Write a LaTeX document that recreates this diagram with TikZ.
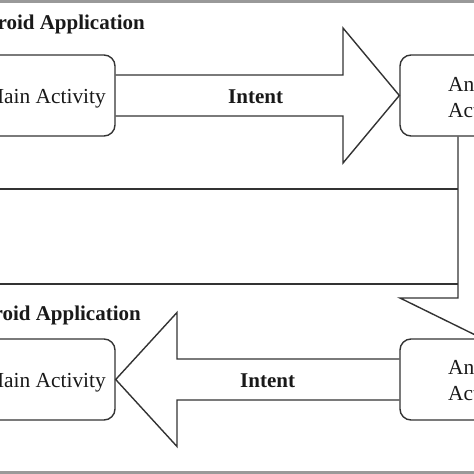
\documentclass[tikz,border=0pt]{standalone}
\usepackage{fontspec}
\setmainfont{Liberation Serif}
\usetikzlibrary{calc}
\begin{document}
\begin{tikzpicture}[x=1pt,y=-1pt,
  ln/.style={draw=black!80, line width=1.4pt, line join=miter},
  box/.style={ln, rounded corners=11pt, inner sep=0pt, minimum height=81pt},
  txt/.style={inner sep=0pt, text=black!90, font=\fontsize{21.4}{26}\selectfont},
  btxt/.style={txt, font=\fontsize{21}{26}\selectfont\bfseries},
  band/.style={fill=black!40, draw=none}]
\useasboundingbox (0,0) rectangle (474,474);
\clip (0,0) rectangle (474,474);
\fill[white] (0,0) rectangle (474,474);

% top application
\node[btxt, anchor=base east] (app1) at (145,29) {Android Application};
\node[box, minimum width=140pt] (ma1) at (45,95.5) {};
\node[box, minimum width=160pt] (aa1) at (480,95.5) {};
\node[txt, anchor=base east] (ma1t) at (106,103) {Main Activity};
\node[txt, anchor=base west] (aa1t1) at (448,91) {Another};
\node[txt, anchor=base west] (aa1t2) at (448,117) {Activity};
\coordinate (hb1) at (343,95.5);
\draw[ln] ($(ma1.east)+(0,-20.5)$) -- ($(hb1)+(0,-20.5)$) -- ($(hb1)+(0,-67.5)$)
  -- (aa1.west) -- ($(hb1)+(0,67.5)$) -- ($(hb1)+(0,20.5)$) -- ($(ma1.east)+(0,20.5)$);
\node[btxt, anchor=base west] (int1) at (228,103) {Intent};

% frame lines and callout
\coordinate (c1) at (458,298);
\coordinate (c2) at (400,298);
\draw[ln] (-5,189) -- (458,189);
\draw[ln] (-5,284) -- (458,284);

% bottom application
\node[btxt, anchor=base east] (app2) at (141,320) {Android Application};
\node[box, minimum width=140pt] (ma2) at (45,379.5) {};
\node[box, minimum width=160pt] (aa2) at (480,379.5) {};
\node[txt, anchor=base east] (ma2t) at (106,387) {Main Activity};
\node[txt, anchor=base west] (aa2t1) at (448,374) {Another};
\node[txt, anchor=base west] (aa2t2) at (448,400) {Activity};
\coordinate (hb2) at (177,379.5);
\draw[ln] ($(aa2.west)+(0,-20.5)$) -- ($(hb2)+(0,-20.5)$) -- ($(hb2)+(0,-67)$)
  -- (ma2.east) -- ($(hb2)+(0,67)$) -- ($(hb2)+(0,20.5)$) -- ($(aa2.west)+(0,20.5)$);
\node[btxt, anchor=base west] (int2) at (240,387) {Intent};

\draw[ln] ($(aa1.south)+(-22,0)$) -- (c1) -- (c2) -- ($(aa2.north)+(2,0)$);

% grey bands
\path[band] (0,0) rectangle (474,2.5);
\path[band] (0,471) rectangle (474,474);
\end{tikzpicture}
\end{document}
